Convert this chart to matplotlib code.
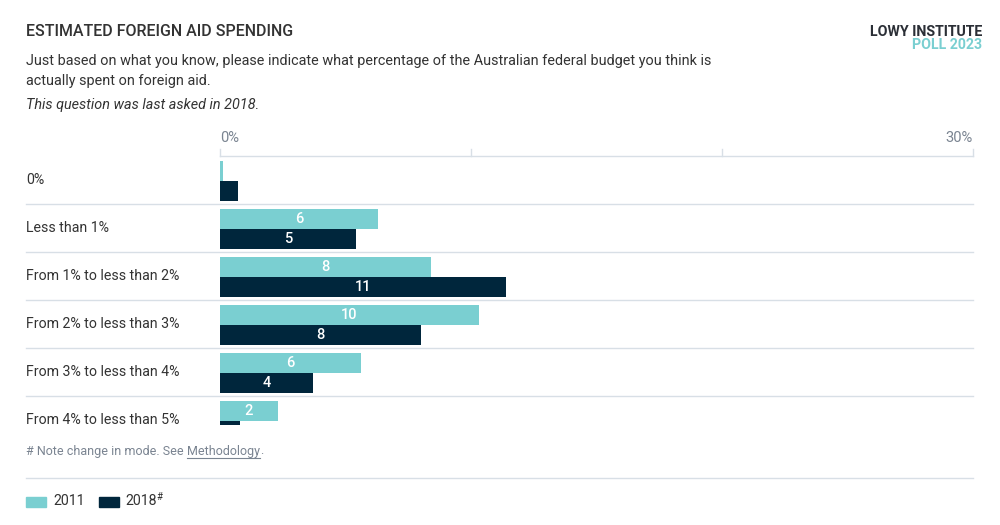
import matplotlib
matplotlib.use('Agg')
import matplotlib.pyplot as plt
from matplotlib.patches import Rectangle

# ── Datos ────────────────────────────────────────────────
categories = ['0%', 'Less than 1%', 'From 1% to less than 2%',
              'From 2% to less than 3%', 'From 3% to less than 4%',
              'From 4% to less than 5%']
v2011 = [0.1, 6.3, 8.4, 10.3, 5.6, 2.3]
v2018 = [0.7, 5.4, 11.4, 8.0, 3.7, 0.8]
series_names = ['2011', '2018']
x_ticks = [0, 10, 20, 30]

TEAL = '#7acfd1'
NAVY = '#00263c'
TXT = '#333333'
GRAY = '#7a8491'
LINE = '#d8dfe6'

plt.rcParams['font.family'] = ['Roboto', 'DejaVu Sans']

W, H = 1000, 525
fig = plt.figure(figsize=(10, 5.25), dpi=100)

def fx(px):
    return px / W

def fy(py):
    return 1 - py / H

# ── Ejes ─────────────────────────────────────────────────
top, bottom, left, right = 156, 425, 220, 973
band = 48
ax = fig.add_axes([fx(left), fy(bottom), fx(right - left), (bottom - top) / H])
ax.set_xlim(0, 30)
ax.set_ylim((bottom - top) / band, 0)
ax.axis('off')

bh = 20 / band
for i, (a, b) in enumerate(zip(v2011, v2018)):
    ax.barh(i + 5 / band, a, height=bh, align='edge', color=TEAL)
    ax.barh(i + 25 / band, b, height=bh, align='edge', color=NAVY)
    for v, y0 in ((a, i + 5 / band), (b, i + 25 / band)):
        if v >= 1.5:
            ax.text(v / 2, y0 + bh / 2 + 0.01, f'{round(v)}', ha='center', va='center',
                    color='white', fontsize=10.5, fontweight='medium')

# líneas separadoras
ax.axhline(0, color=LINE, lw=1, clip_on=False)
for i in range(1, len(categories)):
    ax.axhline(i, xmin=(26 - left) / (right - left), xmax=1, color=LINE, lw=1, clip_on=False)

# marcas superiores
for t in x_ticks:
    ax.plot([t, t], [0, -7 / band], color=LINE, lw=1, clip_on=False)
ax.text(0, -18 / band, f'{x_ticks[0]}%', ha='left', va='center', color=GRAY, fontsize=10.5)
ax.text(30, -18 / band, f'{x_ticks[-1]}%', ha='right', va='center', color=GRAY, fontsize=10.5)

# etiquetas de categoría
for i, c in enumerate(categories):
    fig.text(fx(26), fy(top + i * band + 24), c, ha='left', va='center', color=TXT, fontsize=10.2)

# ── Títulos ──────────────────────────────────────────────
fig.text(fx(26), fy(31), 'ESTIMATED FOREIGN AID SPENDING', ha='left', va='center',
         color=TXT, fontsize=11.5, fontweight='medium')
fig.text(fx(26), fy(61), 'Just based on what you know, please indicate what percentage of the '
         'Australian federal budget you think is', ha='left', va='center', color=TXT, fontsize=10.4)
fig.text(fx(26), fy(81), 'actually spent on foreign aid.', ha='left', va='center',
         color=TXT, fontsize=10.4)
fig.text(fx(26), fy(105), 'This question was last asked in 2018.', ha='left', va='center',
         color=TXT, fontsize=10.4, style='italic')
fig.text(fx(982), fy(32), 'LOWY INSTITUTE', ha='right', va='center', color='#2b2f36',
         fontsize=10.2, fontweight='bold')
fig.text(fx(982), fy(45), 'POLL 2023', ha='right', va='center', color=TEAL,
         fontsize=10.2, fontweight='bold')

# ── Nota ─────────────────────────────────────────────────
renderer = fig.canvas.get_renderer()
t1 = fig.text(fx(26), fy(451), '# Note change in mode. See ', ha='left', va='center',
              color=GRAY, fontsize=9.0)
x1 = t1.get_window_extent(renderer).x1
t2 = fig.text(x1 / W, fy(451), 'Methodology', ha='left', va='center', color=GRAY, fontsize=9.0)
ext2 = t2.get_window_extent(renderer)
fig.text(ext2.x1 / W, fy(451), '.', ha='left', va='center', color=GRAY, fontsize=9.0)
fig.add_artist(plt.Line2D([ext2.x0 / W, ext2.x1 / W], [fy(458), fy(458)], color=GRAY, lw=0.8))

fig.add_artist(plt.Line2D([fx(26), fx(right)], [fy(478), fy(478)], color=LINE, lw=1))

# ── Leyenda ──────────────────────────────────────────────
lx = 26
for name, col in zip(series_names, (TEAL, NAVY)):
    fig.add_artist(Rectangle((fx(lx), fy(507)), fx(20), 10 / H, color=col))
    t = fig.text(fx(lx + 27), fy(501), name, ha='left', va='center', color=TXT, fontsize=10.2)
    ext = t.get_window_extent(renderer)
    if name == '2018':
        fig.text(ext.x1 / W - 0.001, fy(497), '#', ha='left', va='center', color=TXT, fontsize=7)
    lx = ext.x1 + 14

fig.savefig('out.png', dpi=100)
